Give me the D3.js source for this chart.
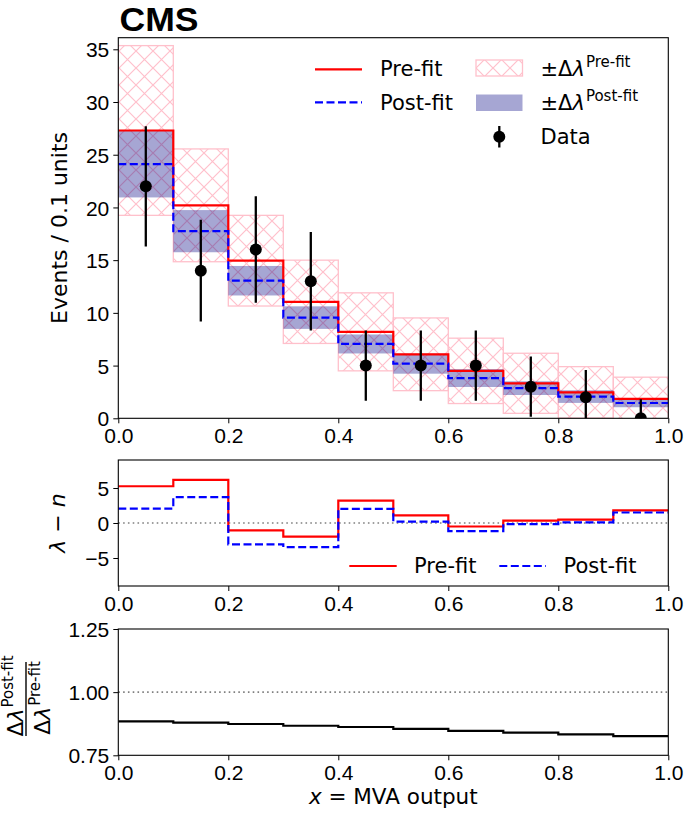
<!DOCTYPE html>
<html>
<head>
<meta charset="utf-8">
<script src="https://cdn.jsdelivr.net/npm/d3@7"></script>
<style>
  body { margin: 0; background: #fff; }
  svg { font-family: "DejaVu Sans", sans-serif; }
  .tick text { font-size: 21px; fill: #000; }
</style>
</head>
<body>
<div id="chart"></div>
<script>
// bins of the MVA output
const binEdges = [0.0, 0.1, 0.2, 0.3, 0.4, 0.5, 0.6, 0.7, 0.8, 0.9, 1.0];

// top panel: expected yields and data
const prefit = [27.3, 20.2, 14.95, 11.05, 8.2, 6.07, 4.5, 3.32, 2.46, 1.85];
const postfit = [24.1, 17.75, 13.05, 9.55, 7.05, 5.18, 3.82, 2.86, 2.06, 1.45];
const prefitUnc = [8.05, 5.35, 4.3, 3.95, 3.7, 3.45, 3.1, 2.85, 2.44, 2.05];
const postfitUnc = [3.15, 2.0, 1.4, 1.07, 0.9, 0.95, 0.85, 0.65, 0.6, 0.4];
const dataCounts = [22, 14, 16, 13, 5, 5, 5, 3, 2, 0];
const dataErr = [5.7, 4.83, 5.05, 4.67, 3.33, 3.33, 3.33, 2.85, 2.58, 1.8];

// middle panel: lambda - n
const residPre = [5.25, 6.15, -1.05, -1.95, 3.2, 1.08, -0.5, 0.33, 0.47, 1.8];
const residPost = [2.05, 3.7, -3.05, -3.45, 2.03, 0.2, -1.15, -0.15, 0.08, 1.5];

// bottom panel: uncertainty ratio
const uncRatio = [0.884, 0.879, 0.874, 0.867, 0.862, 0.855, 0.847, 0.840, 0.833, 0.826];

const xTicks = [0.0, 0.2, 0.4, 0.6, 0.8, 1.0];
const yTicksTop = [0, 5, 10, 15, 20, 25, 30, 35];
const yTicksMid = [-5, 0, 5];
const yTicksBot = [0.75, 1.00, 1.25];

const W = 685, H = 817;
const left = 118.3, right = 668.3;
const fs = "21px", supFs = "15px";

const svg = d3.select("#chart").append("svg")
    .attr("width", W)
    .attr("height", H);

const defs = svg.append("defs");
const hatch = defs.append("pattern")
    .attr("id", "hatch")
    .attr("patternUnits", "userSpaceOnUse")
    .attr("width", 17)
    .attr("height", 17);
hatch.append("path")
    .attr("d", "M0,0L17,17M-1,16L1,18M16,-1L18,1M0,17L17,0M-1,1L1,-1M16,18L18,16")
    .attr("stroke", "#ffc0cb")
    .attr("stroke-width", 1.2)
    .attr("fill", "none");

const x = d3.scaleLinear().domain([0, 1]).range([left, right]);

const bins = dataCounts.map((d, i) => ({
    x0: binEdges[i], x1: binEdges[i + 1],
    pre: prefit[i], post: postfit[i],
    preU: prefitUnc[i], postU: postfitUnc[i],
    n: d, err: dataErr[i]
}));

function stepPoints(values) {
    const pts = values.map((v, i) => [binEdges[i], v]);
    pts.push([binEdges[binEdges.length - 1], values[values.length - 1]]);
    return pts;
}

function makePanel(id, y0, y1, yDomain, yTicks, fmt) {
    const y = d3.scaleLinear().domain(yDomain).range([y1, y0]);
    const g = svg.append("g");

    defs.append("clipPath").attr("id", "clip-" + id)
        .append("rect")
        .attr("x", left).attr("y", y0)
        .attr("width", right - left).attr("height", y1 - y0);

    const plot = g.append("g").attr("clip-path", `url(#clip-${id})`);

    g.append("g")
        .attr("transform", `translate(0,${y1})`)
        .call(d3.axisBottom(x).tickValues(xTicks).tickFormat(d3.format(".1f"))
            .tickSize(5).tickPadding(5).tickSizeOuter(0))
        .call(a => a.select(".domain").remove());

    g.append("g")
        .attr("transform", `translate(${left},0)`)
        .call(d3.axisLeft(y).tickValues(yTicks).tickFormat(fmt)
            .tickSize(5).tickPadding(4).tickSizeOuter(0))
        .call(a => a.select(".domain").remove())
        .call(a => a.selectAll("text").attr("dy", "0.36em"));

    return { g, plot, y, y0, y1 };
}

const stepLine = y => d3.line().x(d => x(d[0])).y(d => y(d[1])).curve(d3.curveStepAfter);

// ---------- top panel ----------
const topP = makePanel("top", 37.7, 418.3, [0, 36.1], yTicksTop, d3.format("d"));

topP.plot.selectAll(".pre-band")
    .data(bins).enter().append("rect")
    .attr("class", "pre-band")
    .attr("x", d => x(d.x0))
    .attr("width", d => x(d.x1) - x(d.x0))
    .attr("y", d => topP.y(d.pre + d.preU))
    .attr("height", d => topP.y(d.pre - d.preU) - topP.y(d.pre + d.preU))
    .attr("fill", "url(#hatch)")
    .attr("stroke", "#ffc0cb")
    .attr("stroke-width", 1.3);

topP.plot.selectAll(".post-band")
    .data(bins).enter().append("rect")
    .attr("class", "post-band")
    .attr("x", d => x(d.x0))
    .attr("width", d => x(d.x1) - x(d.x0))
    .attr("y", d => topP.y(d.post + d.postU))
    .attr("height", d => topP.y(d.post - d.postU) - topP.y(d.post + d.postU))
    .attr("fill", "#000080")
    .attr("fill-opacity", 0.35);

topP.plot.append("path")
    .attr("d", stepLine(topP.y)(stepPoints(prefit)))
    .attr("fill", "none")
    .attr("stroke", "#ff0000")
    .attr("stroke-width", 2.2);

topP.plot.append("path")
    .attr("d", stepLine(topP.y)(stepPoints(postfit)))
    .attr("fill", "none")
    .attr("stroke", "#0000ff")
    .attr("stroke-width", 2.2)
    .attr("stroke-dasharray", "8,3.5");

topP.plot.selectAll(".err")
    .data(bins).enter().append("line")
    .attr("class", "err")
    .attr("x1", d => x((d.x0 + d.x1) / 2))
    .attr("x2", d => x((d.x0 + d.x1) / 2))
    .attr("y1", d => topP.y(d.n - d.err))
    .attr("y2", d => topP.y(d.n + d.err))
    .attr("stroke", "#000")
    .attr("stroke-width", 2.3);

topP.plot.selectAll(".pt")
    .data(bins).enter().append("circle")
    .attr("class", "pt")
    .attr("cx", d => x((d.x0 + d.x1) / 2))
    .attr("cy", d => topP.y(d.n))
    .attr("r", 6)
    .attr("fill", "#000");

// legend
const lg = svg.append("g");
lg.append("line").attr("x1", 315).attr("x2", 362).attr("y1", 69.3).attr("y2", 69.3)
    .attr("stroke", "#ff0000").attr("stroke-width", 2.2);
lg.append("line").attr("x1", 315).attr("x2", 362).attr("y1", 102.3).attr("y2", 102.3)
    .attr("stroke", "#0000ff").attr("stroke-width", 2.2).attr("stroke-dasharray", "8,3.5");
lg.append("text").attr("x", 380).attr("y", 76).style("font-size", fs).text("Pre-fit");
lg.append("text").attr("x", 380).attr("y", 109.5).style("font-size", fs).text("Post-fit");
lg.append("rect").attr("x", 476).attr("y", 60).attr("width", 46.5).attr("height", 16)
    .attr("fill", "url(#hatch)").attr("stroke", "#ffc0cb").attr("stroke-width", 1.3);
lg.append("rect").attr("x", 476).attr("y", 94.5).attr("width", 46.5).attr("height", 16.5)
    .attr("fill", "#000080").attr("fill-opacity", 0.35);
lg.append("line").attr("x1", 499.3).attr("x2", 499.3).attr("y1", 126).attr("y2", 147.5)
    .attr("stroke", "#000").attr("stroke-width", 2.3);
lg.append("circle").attr("cx", 499.3).attr("cy", 136.7).attr("r", 6).attr("fill", "#000");

function deltaLambda(sel, xPos, yPos, sup) {
    const t = sel.append("text").attr("x", xPos).attr("y", yPos).style("font-size", fs);
    t.append("tspan").text("±Δ");
    t.append("tspan").style("font-style", "italic").text("λ");
    t.append("tspan").attr("dx", 1).attr("dy", -9).style("font-size", supFs).text(sup);
}
deltaLambda(lg, 540.5, 76, "Pre-fit");
deltaLambda(lg, 540.5, 109.5, "Post-fit");
lg.append("text").attr("x", 540.5).attr("y", 144).style("font-size", fs).text("Data");

// CMS label
svg.append("text")
    .attr("x", 119.5)
    .attr("y", 30.5)
    .attr("textLength", 79)
    .attr("lengthAdjust", "spacingAndGlyphs")
    .style("font-family", "'Liberation Sans', Arial, sans-serif")
    .style("font-weight", "bold")
    .style("font-size", "33px")
    .text("CMS");

svg.append("text")
    .attr("transform", `translate(66.5,${(topP.y0 + topP.y1) / 2}) rotate(-90)`)
    .attr("text-anchor", "middle")
    .style("font-size", "22px")
    .text("Events / 0.1 units");

// ---------- middle panel ----------
const midP = makePanel("mid", 460, 586, [-9, 9], yTicksMid, d => d3.format("d")(d).replace("-", "\u2212"));

midP.plot.append("line")
    .attr("x1", left).attr("x2", right)
    .attr("y1", midP.y(0)).attr("y2", midP.y(0))
    .attr("stroke", "#808080").attr("stroke-width", 1.6)
    .attr("stroke-dasharray", "1.6,3.2");

midP.plot.append("path")
    .attr("d", stepLine(midP.y)(stepPoints(residPre)))
    .attr("fill", "none").attr("stroke", "#ff0000").attr("stroke-width", 2.2);

midP.plot.append("path")
    .attr("d", stepLine(midP.y)(stepPoints(residPost)))
    .attr("fill", "none").attr("stroke", "#0000ff").attr("stroke-width", 2.2)
    .attr("stroke-dasharray", "8,3.5");

const lg2 = svg.append("g");
lg2.append("line").attr("x1", 349.3).attr("x2", 396.7).attr("y1", 566).attr("y2", 566)
    .attr("stroke", "#ff0000").attr("stroke-width", 2.2);
lg2.append("text").attr("x", 414).attr("y", 573).style("font-size", fs).text("Pre-fit");
lg2.append("line").attr("x1", 499.3).attr("x2", 546).attr("y1", 566).attr("y2", 566)
    .attr("stroke", "#0000ff").attr("stroke-width", 2.2).attr("stroke-dasharray", "8,3.5");
lg2.append("text").attr("x", 563.5).attr("y", 573).style("font-size", fs).text("Post-fit");

const midLab = svg.append("text")
    .attr("transform", `translate(65,${(midP.y0 + midP.y1) / 2}) rotate(-90)`)
    .attr("text-anchor", "middle")
    .style("font-size", "22px");
midLab.append("tspan").style("font-style", "italic").text("λ");
midLab.append("tspan").text(" \u2212 ");
midLab.append("tspan").style("font-style", "italic").text("n");

// ---------- bottom panel ----------
const botP = makePanel("bot", 629, 755.3, [0.75, 1.25], yTicksBot, d3.format(".2f"));

botP.plot.append("line")
    .attr("x1", left).attr("x2", right)
    .attr("y1", botP.y(1)).attr("y2", botP.y(1))
    .attr("stroke", "#808080").attr("stroke-width", 1.6)
    .attr("stroke-dasharray", "1.6,3.2");

botP.plot.append("path")
    .attr("d", stepLine(botP.y)(stepPoints(uncRatio)))
    .attr("fill", "none").attr("stroke", "#000").attr("stroke-width", 2.2);

const frac = svg.append("g").attr("transform", "translate(26,699) rotate(-90)");
frac.append("line").attr("x1", -37).attr("x2", 37).attr("y1", 0).attr("y2", 0)
    .attr("stroke", "#000").attr("stroke-width", 1.4);
function fracText(yPos, sup, shift) {
    const t = frac.append("text").attr("x", shift).attr("y", yPos)
        .attr("text-anchor", "middle").style("font-size", "22px");
    t.append("tspan").text("Δ");
    t.append("tspan").style("font-style", "italic").text("λ");
    t.append("tspan").attr("dx", 1).attr("dy", -10).style("font-size", supFs).text(sup);
}
fracText(-3, "Post-fit", 3);
fracText(24, "Pre-fit", 1);

const xl = svg.append("text")
    .attr("x", (left + right) / 2)
    .attr("y", 804)
    .attr("text-anchor", "middle")
    .style("font-size", "21.5px");
xl.append("tspan").style("font-style", "italic").text("x");
xl.append("tspan").text(" = MVA output");

// frames on top of everything
[topP, midP, botP].forEach(p => {
    svg.append("rect")
        .attr("x", left).attr("y", p.y0)
        .attr("width", right - left).attr("height", p.y1 - p.y0)
        .attr("fill", "none").attr("stroke", "#000").attr("stroke-width", 1.1);
});
</script>
</body>
</html>
